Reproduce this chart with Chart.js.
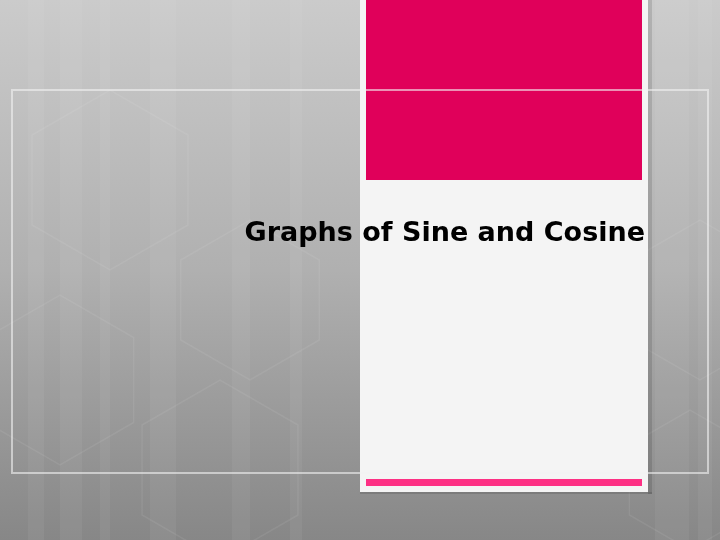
<!DOCTYPE html>
<html lang="en">
<head>
    <meta charset="UTF-8">
    <title>Graphs of Sine and Cosine</title>
    <script src="https://cdn.jsdelivr.net/npm/chart.js"></script>
    <style>
        html, body {
            margin: 0;
            padding: 0;
            background-color: #a8a8a8;
        }
        #slide {
            display: block;
        }
    </style>
</head>
<body>
    <canvas id="slide" width="720" height="540"></canvas>

    <script>
        // Slide content (a title slide, no plotted series)
        const slideTitle = 'Graphs of Sine and Cosine';
        const categories = [];
        const seriesValues = [];

        // Paints the slide background: grey gradient, faint stripes, hexagons, panel and frame
        const slideBackground = {
            id: 'slideBackground',
            beforeDraw(chart) {
                const ctx = chart.ctx;
                const w = chart.width, h = chart.height;
                ctx.save();

                const grad = ctx.createLinearGradient(0, 0, 0, h);
                grad.addColorStop(0, '#cbcbcb');
                grad.addColorStop(0.5, '#b0b0b0');
                grad.addColorStop(1, '#878787');
                ctx.fillStyle = grad;
                ctx.fillRect(0, 0, w, h);

                // light vertical stripes
                ctx.fillStyle = 'rgba(255,255,255,0.05)';
                [[28, 16], [60, 22], [100, 10], [150, 26], [232, 18], [290, 12], [655, 34], [698, 14]].forEach(s => {
                    ctx.fillRect(s[0], 0, s[1], h);
                });

                // faint hexagon outlines
                ctx.strokeStyle = 'rgba(255,255,255,0.07)';
                ctx.lineWidth = 1.5;
                [[110, 180, 90], [250, 300, 80], [60, 380, 85], [220, 470, 90], [700, 300, 80], [690, 480, 70]].forEach(hx => {
                    ctx.beginPath();
                    for (let i = 0; i < 6; i++) {
                        const a = Math.PI / 3 * i + Math.PI / 6;
                        const px = hx[0] + hx[2] * Math.cos(a);
                        const py = hx[1] + hx[2] * Math.sin(a);
                        if (i === 0) ctx.moveTo(px, py); else ctx.lineTo(px, py);
                    }
                    ctx.closePath();
                    ctx.stroke();
                });

                // white panel with a soft right shadow
                ctx.fillStyle = 'rgba(0,0,0,0.12)';
                ctx.fillRect(648, 0, 4, 494);
                ctx.fillRect(360, 492, 292, 2);
                ctx.fillStyle = '#f4f4f4';
                ctx.fillRect(360, 0, 288, 492);

                // magenta block and bottom stripe
                ctx.fillStyle = '#e0005a';
                ctx.fillRect(366, 0, 276, 180);
                ctx.fillStyle = '#fd3084';
                ctx.fillRect(366, 479, 276, 7);

                // thin frame across the slide
                ctx.strokeStyle = 'rgba(242,242,242,0.6)';
                ctx.lineWidth = 2;
                ctx.strokeRect(12, 90, 696, 383);

                ctx.restore();
            }
        };

        function displaySlide() {
            const ctx = document.getElementById('slide').getContext('2d');
            new Chart(ctx, {
                type: 'bar',
                data: {
                    labels: categories,
                    datasets: [{ data: seriesValues }]
                },
                options: {
                    responsive: false,
                    animation: false,
                    devicePixelRatio: 1,
                    layout: { padding: { top: 0, right: 75, left: 0, bottom: 0 } },
                    scales: {
                        x: { display: false },
                        y: { display: false }
                    },
                    plugins: {
                        legend: { display: false },
                        tooltip: { enabled: false },
                        title: {
                            display: true,
                            text: slideTitle,
                            align: 'end',
                            color: '#000000',
                            font: { family: '"DejaVu Sans", sans-serif', size: 27, weight: 'bold', lineHeight: 1.2 },
                            padding: { top: 218, bottom: 0 }
                        }
                    }
                },
                plugins: [slideBackground]
            });
        }

        window.onload = displaySlide;
    </script>
</body>
</html>
